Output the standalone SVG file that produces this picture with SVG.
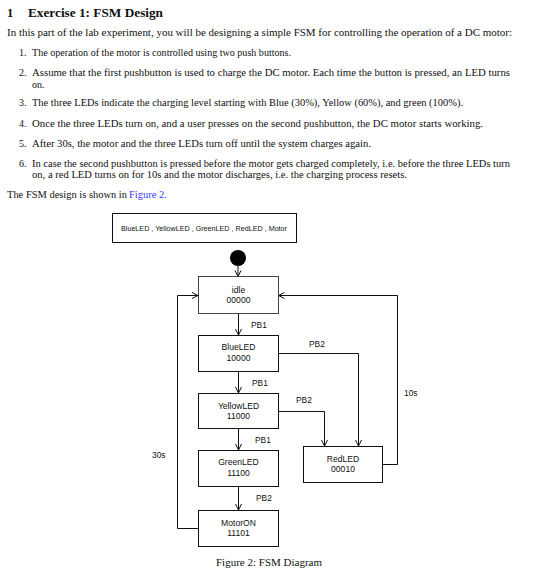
<svg xmlns="http://www.w3.org/2000/svg" width="543" height="577" viewBox="0 0 543 577">
<style>
.body{font-family:"Liberation Serif","Times New Roman",serif;font-size:10px;fill:#111}
.head{font-family:"Liberation Serif","Times New Roman",serif;font-size:12.5px;font-weight:bold;fill:#111}
.sans{font-family:"Liberation Sans",Arial,sans-serif;fill:#111}
.st{font-size:8.6px;text-anchor:middle}
.lbl{font-size:8.4px}
.box{fill:#fff;stroke:#111;stroke-width:1}
.edge{fill:none;stroke:#111;stroke-width:1}
</style>
<defs>
<marker id="arr" markerWidth="8" markerHeight="8" refX="7" refY="4" orient="auto" markerUnits="userSpaceOnUse">
<path d="M1,1 L7,4 L1,7" fill="none" stroke="#111" stroke-width="1"/>
</marker>
</defs>
<rect width="543" height="577" fill="#fff"/>
<g id="text">
<text class="head" x="7" y="17">1</text>
<text class="head" x="28" y="17" textLength="135" lengthAdjust="spacingAndGlyphs">Exercise 1: FSM Design</text>
<text class="body" x="7" y="36" textLength="505" lengthAdjust="spacingAndGlyphs">In this part of the lab experiment, you will be designing a simple FSM for controlling the operation of a DC motor:</text>
<text class="body" x="19" y="56">1.</text>
<text class="body" x="32" y="56" textLength="259" lengthAdjust="spacingAndGlyphs">The operation of the motor is controlled using two push buttons.</text>
<text class="body" x="19" y="76">2.</text>
<text class="body" x="32" y="76" textLength="478" lengthAdjust="spacingAndGlyphs">Assume that the first pushbutton is used to charge the DC motor. Each time the button is pressed, an LED turns</text>
<text class="body" x="32" y="88">on.</text>
<text class="body" x="19" y="106">3.</text>
<text class="body" x="32" y="106" textLength="431" lengthAdjust="spacingAndGlyphs">The three LEDs indicate the charging level starting with Blue (30%), Yellow (60%), and green (100%).</text>
<text class="body" x="19" y="127">4.</text>
<text class="body" x="32" y="127" textLength="451" lengthAdjust="spacingAndGlyphs">Once the three LEDs turn on, and a user presses on the second pushbutton, the DC motor starts working.</text>
<text class="body" x="19" y="147">5.</text>
<text class="body" x="32" y="147" textLength="339" lengthAdjust="spacingAndGlyphs">After 30s, the motor and the three LEDs turn off until the system charges again.</text>
<text class="body" x="19" y="167">6.</text>
<text class="body" x="32" y="167" textLength="478" lengthAdjust="spacingAndGlyphs">In case the second pushbutton is pressed before the motor gets charged completely, i.e. before the three LEDs turn</text>
<text class="body" x="32" y="178" textLength="375" lengthAdjust="spacingAndGlyphs">on, a red LED turns on for 10s and the motor discharges, i.e. the charging process resets.</text>
<text class="body" x="7" y="198" textLength="120" lengthAdjust="spacingAndGlyphs">The FSM design is shown in</text>
<text class="body" x="129" y="198" style="fill:#3a3aff" textLength="38" lengthAdjust="spacingAndGlyphs">Figure 2.</text>
<text class="body" x="216" y="566" textLength="106" lengthAdjust="spacingAndGlyphs">Figure 2: FSM Diagram</text>
</g>
<g id="header">
<rect class="box" x="112.5" y="213.5" width="184" height="29"/>
<text class="sans" x="121" y="230.5" font-size="7" textLength="166" lengthAdjust="spacingAndGlyphs">BlueLED , YellowLED , GreenLED , RedLED , Motor</text>
</g>
<g id="start"><circle cx="238" cy="258" r="8" fill="#000"/></g>
<g id="connectors">
<path class="edge" d="M238,266 V276.5" marker-end="url(#arr)"/>
<path class="edge" d="M238.5,313.5 V335" marker-end="url(#arr)"/>
<path class="edge" d="M238.5,371.5 V393" marker-end="url(#arr)"/>
<path class="edge" d="M238.5,428.5 V450" marker-end="url(#arr)"/>
<path class="edge" d="M238.5,486.5 V510" marker-end="url(#arr)"/>
<path class="edge" d="M278.5,353.5 H358.5 V446" marker-end="url(#arr)"/>
<path class="edge" d="M278.5,411.5 H324.5 V446" marker-end="url(#arr)"/>
<path class="edge" d="M382.5,464.5 H397.5 V295.5 H278.5" marker-end="url(#arr)"/>
<path class="edge" d="M198.5,528.5 H177.5 V295.5 H198" marker-end="url(#arr)"/>
<text class="sans lbl" x="251" y="328">PB1</text>
<text class="sans lbl" x="252" y="386">PB1</text>
<text class="sans lbl" x="255" y="443">PB1</text>
<text class="sans lbl" x="256" y="501">PB2</text>
<text class="sans lbl" x="309" y="347">PB2</text>
<text class="sans lbl" x="296" y="403">PB2</text>
<text class="sans lbl" x="404" y="396">10s</text>
<text class="sans lbl" x="152" y="458">30s</text>
</g>
<g id="idle">
<rect class="box" x="198.5" y="276.5" width="80" height="37" style="stroke:#444"/>
<text class="sans st" x="238.5" y="292.5">idle</text>
<text class="sans st" x="238.5" y="303">00000</text>
</g>
<g id="blueled">
<rect class="box" x="198.5" y="335.5" width="80" height="36"/>
<text class="sans st" x="238.5" y="350">BlueLED</text>
<text class="sans st" x="238.5" y="360.5">10000</text>
</g>
<g id="yellowled">
<rect class="box" x="198.5" y="393.5" width="80" height="35"/>
<text class="sans st" x="238.5" y="408.5">YellowLED</text>
<text class="sans st" x="238.5" y="419">11000</text>
</g>
<g id="greenled">
<rect class="box" x="198.5" y="450.5" width="80" height="36"/>
<text class="sans st" x="238.5" y="465">GreenLED</text>
<text class="sans st" x="238.5" y="475.5">11100</text>
</g>
<g id="motoron">
<rect class="box" x="198.5" y="510.5" width="80" height="36"/>
<text class="sans st" x="238.5" y="525.5">MotorON</text>
<text class="sans st" x="238.5" y="536">11101</text>
</g>
<g id="redled">
<rect class="box" x="303.5" y="446.5" width="79" height="36"/>
<text class="sans st" x="343" y="461.5">RedLED</text>
<text class="sans st" x="343" y="472">00010</text>
</g>
</svg>
